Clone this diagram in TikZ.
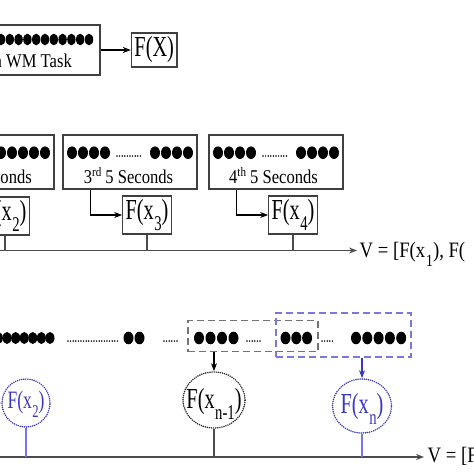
\documentclass[tikz,border=0pt]{standalone}
\usepackage{fontspec}
\setmainfont{Liberation Serif}[FakeStretch=0.85]
\newfontfamily\flabel{Liberation Serif}[FakeStretch=0.7]
\usetikzlibrary{arrows.meta,shapes.geometric}
\definecolor{wmblue}{RGB}{55,55,195}
\definecolor{wmlblue}{RGB}{120,120,225}
\definecolor{wmgray}{RGB}{115,115,115}
\newcommand{\lowsub}[2][21]{\kern0.5pt\raisebox{-0.55\dimexpr#1pt\relax}{\fontsize{#1}{#1}\selectfont#2}}
\newcommand{\upsup}[1]{\raisebox{7pt}{\fontsize{13}{13}\selectfont#1}}
\newcommand{\wmdots}[5]{\foreach \k in {1,...,#3} \fill ({#1+(\k-1)*#4},#2) ellipse (#5);}

\begin{document}
\begin{tikzpicture}[x=1pt,y=-1pt,
  wmbox/.style={draw=black!75,line width=1.2pt,inner sep=0pt},
  flab/.style={font=\flabel\fontsize{29}{32}\selectfont,inner sep=0pt},
  txt/.style={font=\fontsize{19.5}{21}\selectfont,inner sep=0pt},
  vtxt/.style={font=\fontsize{22}{24}\selectfont,inner sep=0pt,anchor=base west},
  arw/.style={-{Stealth[length=8pt,width=6pt]},line width=1.1pt},
  timeline/.style={draw=black!70,line width=1.3pt},
  dotline/.style={line width=1.7pt,dash pattern=on 0pt off 2.6pt,line cap=round},
  window/.style={line width=1.3pt,dash pattern=on 7pt off 4pt,inner sep=0pt},
  wmcirc/.style={ellipse,line width=1.7pt,dash pattern=on 0pt off 2.1pt,line cap=round,inner sep=0pt}]
\useasboundingbox (0,0) rectangle (474,474);
\clip (0,0) rectangle (474,474);

\node[wmbox,minimum width=150,minimum height=50] (task) at (25,50) {};
\wmdots{-7.8}{39.5}{12}{8.8}{4.2 and 5.8}
\node[txt,anchor=base east] at (72,67.5) {a WM Task};
\node[wmbox,flab,minimum width=45.5,minimum height=34] (fX) at (154.2,50) {F(X)};
\draw[arw] (task.east) -- (fX.west);

\node[wmbox,minimum width=134,minimum height=54] (sec2) at (-13,162) {};
\node[wmbox,minimum width=134,minimum height=54] (sec3) at (130,162) {};
\node[wmbox,minimum width=134,minimum height=54] (sec4) at (276,162) {};
\wmdots{1}{152.7}{5}{11}{5 and 6.3}
\wmdots{72}{152.7}{4}{11}{5 and 6.3}
\draw[dotline] (117,156) -- (142,156);
\wmdots{155}{152.7}{4}{11}{5 and 6.3}
\wmdots{218}{152.7}{4}{11}{5 and 6.3}
\draw[dotline] (263,156) -- (288,156);
\wmdots{301}{152.7}{4}{11}{5 and 6.3}
\node[txt,anchor=base east] at (32,183) {onds};
\node[txt,anchor=base] at (128.5,183) {3\upsup{rd} 5 Seconds};
\node[txt,anchor=base] at (273.5,183) {4\upsup{th} 5 Seconds};

\node[wmbox,flab,minimum width=48.5,minimum height=38] (fx2) at (5,216) {F(x\lowsub{2})};
\node[wmbox,flab,minimum width=48.5,minimum height=38] (fx3) at (147,215) {F(x\lowsub{3})};
\node[wmbox,flab,minimum width=48.5,minimum height=38] (fx4) at (293,215) {F(x\lowsub{4})};
\draw[arw] ([xshift=28pt]sec3.south west) |- (fx3.west);
\draw[arw] ([xshift=28pt]sec4.south west) |- (fx4.west);

\coordinate (t1s) at (-5,250.5);
\coordinate (t1e) at (357,250.5);
\draw[timeline,arw] (t1s) -- (t1e);
\foreach \f in {fx2,fx3,fx4} \draw[black!70,line width=1.1pt] (\f.south) -- (\f.south |- t1s);
\node[vtxt] (vec1) at (359.5,257) {V = [F(x\lowsub[17]{1}), F(};

\wmdots{-1.6}{338}{7}{8.6}{4.5 and 6}
\draw[dotline] (68,341) -- (119,341);
\wmdots{128.5}{338}{2}{11}{5 and 6.3}
\draw[dotline] (164,341) -- (178,341);
\wmdots{199}{338}{4}{11.5}{5 and 6.3}
\draw[dotline] (247,341) -- (262,341);
\wmdots{285.5}{338}{3}{10.8}{5 and 6.3}
\draw[dotline] (322,341) -- (333,341);
\wmdots{356}{338}{5}{11.3}{5 and 6.3}
\node[window,draw=wmgray,minimum width=130,minimum height=31] (winA) at (253,336.2) {};
\node[window,draw=wmlblue,minimum width=135,minimum height=44] (winB) at (343.5,335) {};

\node[wmcirc,draw=wmblue,minimum width=48,minimum height=48] (fxb2) at (26,403) {};
\node[flab,wmblue,font=\flabel\fontsize{25}{28}\selectfont,anchor=base] at ([yshift=-5pt]fxb2.center) {F(x\lowsub[18]{2})};
\node[wmcirc,draw=black!85,minimum width=62,minimum height=56] (fxn1) at (214,400) {};
\node[flab,anchor=base] at ([yshift=-8pt]fxn1.center) {F(x\lowsub{n-1})};
\node[wmcirc,draw=wmblue,minimum width=59,minimum height=54] (fxn) at (362,406) {};
\node[flab,wmblue,anchor=base] at ([yshift=-7pt]fxn.center) {F(x\lowsub{n})};

\coordinate (fxin) at (-6,403);
\draw[arw,wmblue] (fxin) -- (fxb2.west);
\draw[arw] (winA.south -| fxn1.north) -- (fxn1.north);
\draw[arw,wmblue] (winB.south -| fxn.north) -- (fxn.north);

\coordinate (t2s) at (-5,457);
\coordinate (t2e) at (424,457);
\draw[timeline,arw] (t2s) -- (t2e);
\draw[wmlblue,line width=1.1pt] (fxb2.south) -- (fxb2.south |- t2s);
\draw[black!70,line width=1.1pt] (fxn1.south) -- (fxn1.south |- t2s);
\draw[wmlblue,line width=1.1pt] (fxn.south) -- (fxn.south |- t2s);
\node[vtxt] (vec2) at (427.5,462) {V = [F};
\end{tikzpicture}
\end{document}
